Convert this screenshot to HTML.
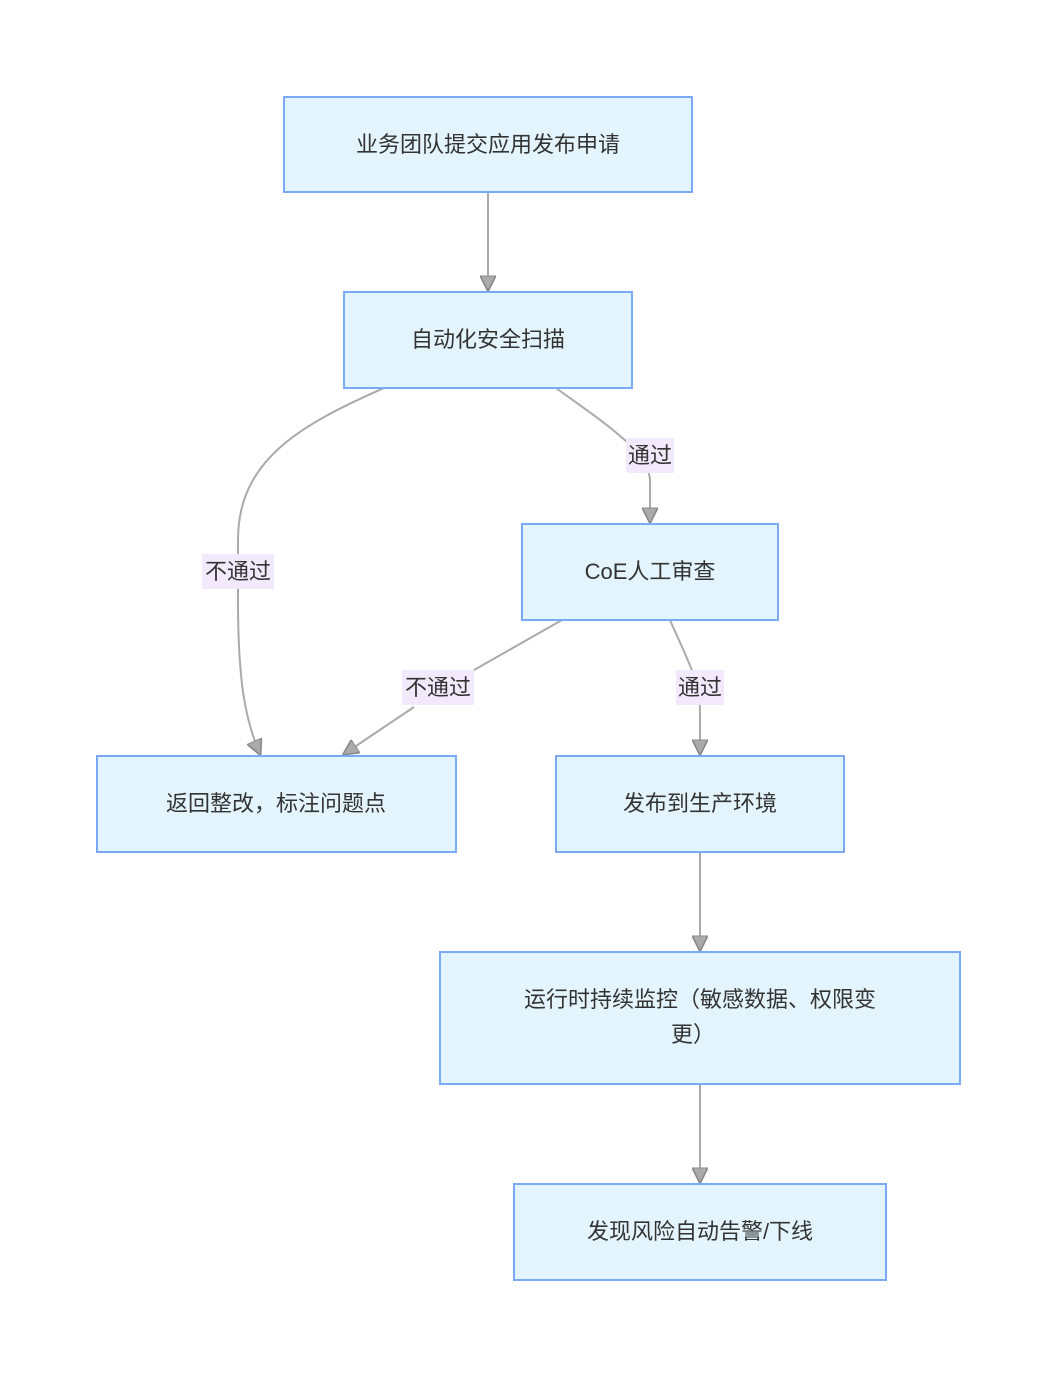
<!DOCTYPE html>
<html><head><meta charset="utf-8"><style>
html,body{margin:0;padding:0;background:#fff;}
svg text{font-family:"Liberation Sans","Noto Sans CJK SC",sans-serif;fill:#333;}
</style></head><body>
<svg width="1056" height="1376" viewBox="0 0 1056 1376" xmlns="http://www.w3.org/2000/svg">
<defs><marker id="a" viewBox="0 0 10 10" refX="10" refY="5" markerWidth="8" markerHeight="8" markerUnits="userSpaceOnUse" orient="auto">
<path d="M0,0 L10,5 L0,10 z" fill="#999" stroke="#888"/></marker>
<marker id="b" viewBox="0 0 10 10" refX="9" refY="5" markerWidth="16" markerHeight="16" orient="auto" markerUnits="userSpaceOnUse"><path d="M0,0 L10,5 L0,10 z" fill="#aaa" stroke="#888"/></marker></defs>
<g fill="none" stroke="#aaa" stroke-width="2">
<path d="M488,192 L488,290" marker-end="url(#b)"/>
<path d="M556,388 C600,420 648,450 650,480 L650,522" marker-end="url(#b)"/>
<path d="M384,388 C300,425 238,460 238,540 L238,600 C238,680 245,720 260,754" marker-end="url(#b)"/>
<path d="M562,620 L474,670 M414,707 L344,754" marker-end="url(#b)"/>
<path d="M670,620 C685,655 700,680 700,710 L700,754" marker-end="url(#b)"/>
<path d="M700,852 L700,950" marker-end="url(#b)"/>
<path d="M700,1084 L700,1182" marker-end="url(#b)"/>
</g>
<g fill="#e3f4fd" stroke="#7aa9f7" stroke-width="2">
<rect x="284" y="97" width="408" height="95"/>
<rect x="344" y="292" width="288" height="96"/>
<rect x="522" y="524" width="256" height="96"/>
<rect x="97" y="756" width="359" height="96"/>
<rect x="556" y="756" width="288" height="96"/>
<rect x="440" y="952" width="520" height="132"/>
<rect x="514" y="1184" width="372" height="96"/>
</g>
<g fill="#f2eafc">
<rect x="626" y="438" width="48" height="35"/>
<rect x="202" y="554" width="72" height="35"/>
<rect x="402" y="670" width="72" height="35"/>
<rect x="676" y="670" width="48" height="35"/>
</g>
<g font-size="22" text-anchor="middle">
<text x="488" y="152">业务团队提交应用发布申请</text>
<text x="488" y="347">自动化安全扫描</text>
<text x="650" y="579">CoE人工审查</text>
<text x="276" y="811">返回整改，标注问题点</text>
<text x="700" y="811">发布到生产环境</text>
<text x="700" y="1007">运行时持续监控（敏感数据、权限变</text>
<text x="693" y="1042">更）</text>
<text x="700" y="1239">发现风险自动告警/下线</text>
<text x="650" y="463">通过</text>
<text x="238" y="579">不通过</text>
<text x="438" y="695">不通过</text>
<text x="700" y="695">通过</text>
</g>
</svg>
</body></html>
